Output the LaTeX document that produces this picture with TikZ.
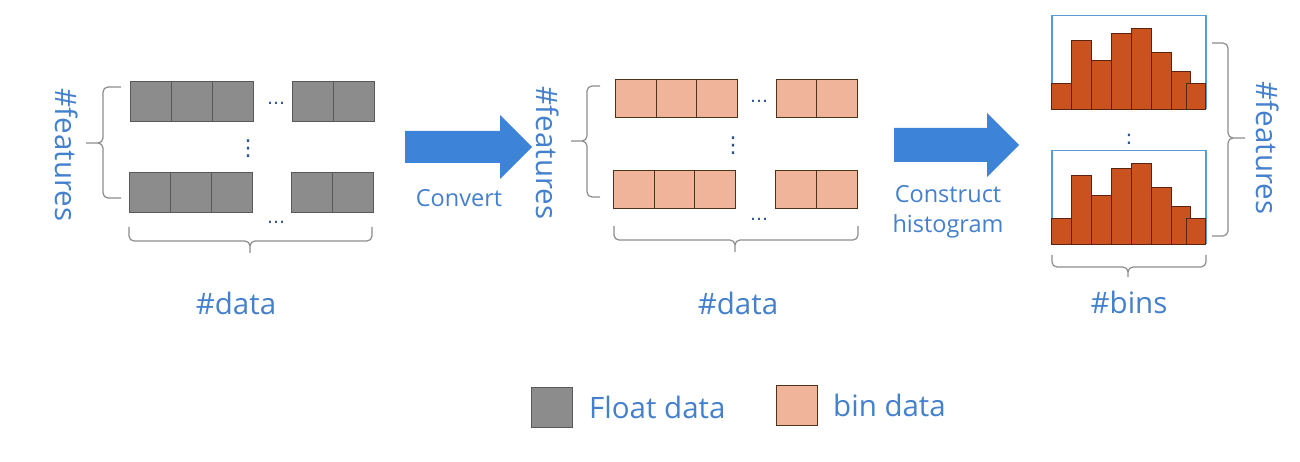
\documentclass[tikz,border=0pt]{standalone}
\usepackage{fontspec}
\setmainfont{Open Sans}
\newfontfamily\dotfont{DejaVu Sans}
\usepackage{tikz}
\usetikzlibrary{calc,positioning,shapes}
\definecolor{txtblue}{RGB}{68,128,204}
\definecolor{arrblue}{RGB}{61,131,216}
\definecolor{boxblue}{RGB}{91,155,213}
\definecolor{dotblue}{RGB}{40,80,150}
\definecolor{floatgray}{RGB}{140,140,140}
\definecolor{peach}{RGB}{240,180,154}
\definecolor{barred}{RGB}{201,82,30}
\definecolor{bracegray}{RGB}{140,140,140}

\begin{document}
\begin{tikzpicture}[x=1pt, y=-1pt,
  fcell/.style={draw=black!65, fill=floatgray, line width=1pt, inner sep=0pt, minimum width=41pt, minimum height=40pt},
  bcell/.style={draw=black!60!brown, fill=peach, line width=1pt, inner sep=0pt, minimum width=41pt, minimum height=38pt},
  hframe/.style={draw=boxblue, line width=1.2pt, inner sep=0pt, minimum width=154pt, minimum height=93pt},
  bar/.style={draw=black!55!barred, fill=barred, line width=1pt},
  lbl/.style={text=txtblue, inner sep=0pt, font=\fontsize{29.5}{34}\selectfont},
  act/.style={text=txtblue, inner sep=0pt, align=center, font=\fontsize{23.5}{30}\selectfont},
  dots/.style={text=dotblue, inner sep=0pt, font=\dotfont\fontsize{18}{20}\selectfont},
  brc/.style={draw=bracegray, line width=1.2pt, rounded corners=5pt},
  bigarrow/.style={fill=arrblue}]
\useasboundingbox (0,0) rectangle (1300,462);

% float data
\foreach \x [count=\i] in {151,192,233,313,354}{\node[fcell] (fa\i) at (\x,102) {};}
\foreach \x [count=\i] in {150,191,232,312,353}{\node[fcell] (fb\i) at (\x,193) {};}
\node[dots] (fd1) at (276,103) {…};
\node[dots, font=\dotfont\fontsize{22}{24}\selectfont] (fd2) at (248,149) {⋮};
\node[dots] (fd3) at (276,222) {…};
\draw[brc] (121,87) -- (103,87) -- (103,143) -- (86,143) (121,198) -- (103,198) -- (103,143) -- (86,143);
\draw[brc] (129,227) -- (129,241) -- (250,241) -- (250,253) (372,227) -- (372,241) -- (250,241) -- (250,253);
\node[lbl, rotate=-90] (ff) at (67,155) {\#features};
\node[lbl] (fdata) at (236,303) {\#data};

% convert
\fill[bigarrow] (405,131) -- (500,131) -- (500,115) -- (532,147) -- (500,179) -- (500,163) -- (405,163) -- cycle;
\node[act] (conv) at (459,198) {Convert};

% bin data
\foreach \x [count=\i] in {636,677,717,797,837}{\node[bcell] (ba\i) at (\x,99) {};}
\foreach \x [count=\i] in {634,675,715,796,837}{\node[bcell] (bb\i) at (\x,190) {};}
\node[dots] (bd1) at (759,101) {…};
\node[dots, font=\dotfont\fontsize{22}{24}\selectfont] (bd2) at (733,146) {⋮};
\node[dots] (bd3) at (759,219) {…};
\draw[brc] (600,86) -- (587,86) -- (587,141) -- (571,141) (600,197) -- (587,197) -- (587,141) -- (571,141);
\draw[brc] (614,226) -- (614,240) -- (735,240) -- (735,252) (858,226) -- (858,240) -- (735,240) -- (735,252);
\node[lbl, rotate=-90] (bf) at (548,153) {\#features};
\node[lbl] (bdata) at (738,303) {\#data};

% construct histogram
\fill[bigarrow] (894,128) -- (987,128) -- (987,113) -- (1019,145) -- (987,177) -- (987,162) -- (894,162) -- cycle;
\node[act] (cons) at (948,212) {Construct\\histogram};

% histograms
\node[hframe] (h1) at (1129,62) {};
\node[hframe] (h2) at (1129,197) {};
\foreach \j in {1,2}{
  \foreach \xo/\w/\h in {0/20/26,20/20/69,40/20/49,60/20/76,80/20/81,100/20/57,120/19/38,135/19/26}{
    \draw[bar] ($(h\j.south west)+(\xo,0)$) rectangle ++(\w,-\h);}}
\node[dots, font=\dotfont\fontsize{20}{22}\selectfont] (hd) at (1129,139) {:};
\draw[brc] (1212,43) -- (1228,43) -- (1228,138) -- (1245,138) (1212,236) -- (1228,236) -- (1228,138) -- (1245,138);
\draw[brc] (1052,255) -- (1052,267) -- (1128,267) -- (1128,277) (1206,255) -- (1206,267) -- (1128,267) -- (1128,277);
\node[lbl, rotate=-90] (hf) at (1268,148) {\#features};
\node[lbl] (hbins) at (1129,302) {\#bins};

% legend
\node[fcell] (lgf) at (552,407) {};
\node[lbl, right=16pt of lgf] (lgft) {Float data};
\node[bcell, minimum height=40pt] (lgb) at (797,405) {};
\node[lbl, right=15pt of lgb] (lgbt) {bin data};
\end{tikzpicture}
\end{document}
